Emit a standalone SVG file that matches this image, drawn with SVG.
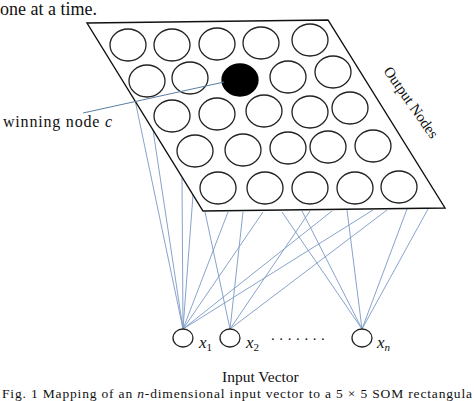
<svg xmlns="http://www.w3.org/2000/svg" width="474" height="401" viewBox="0 0 474 401">
<style>
  .txt { font-family: "Liberation Serif", "Times New Roman", serif; fill: #111; }
  .node { fill: #fff; stroke: #222; stroke-width: 1.3; }
  .win { fill: #000; stroke: #000; stroke-width: 1.3; }
  .plane { fill: #fff; stroke: #111; stroke-width: 1.4; stroke-linejoin: miter; }
  .conn line { stroke: #7b99c4; stroke-width: 0.9; }
  .leader { stroke: #5b7ea6; stroke-width: 1; fill: none; }
</style>
<rect width="474" height="401" fill="#fff"/>

<text class="txt" x="0" y="15" font-size="18">one at a time.</text>

<g id="connectors" class="conn">
  <line x1="183" y1="329" x2="135" y2="100"/>
  <line x1="183" y1="329" x2="153" y2="130"/>
  <line x1="183" y1="329" x2="182" y2="178"/>
  <line x1="183" y1="329" x2="193" y2="195"/>
  <line x1="183" y1="329" x2="228" y2="212"/>
  <line x1="183" y1="329" x2="263" y2="212"/>
  <line x1="183" y1="329" x2="332" y2="211"/>
  <line x1="183" y1="329" x2="373" y2="210"/>
  <line x1="230" y1="329" x2="205" y2="212"/>
  <line x1="230" y1="329" x2="243" y2="212"/>
  <line x1="230" y1="329" x2="310" y2="211"/>
  <line x1="230" y1="329" x2="387" y2="210"/>
  <line x1="362" y1="329" x2="282" y2="212"/>
  <line x1="362" y1="329" x2="302" y2="211"/>
  <line x1="362" y1="329" x2="347" y2="210"/>
  <line x1="362" y1="329" x2="407" y2="209"/>
  <line x1="362" y1="329" x2="428" y2="209"/>
</g>

<g id="output-layer">
  <polygon class="plane" points="87,23 328,20 445,208 203,211"/>
  <g id="out-r1">
    <ellipse id="n11" class="node" cx="128" cy="45" rx="18" ry="16"/>
    <ellipse id="n12" class="node" cx="172" cy="45" rx="18" ry="16"/>
    <ellipse id="n13" class="node" cx="217" cy="44" rx="18" ry="16"/>
    <ellipse id="n14" class="node" cx="261" cy="43" rx="18" ry="16"/>
    <ellipse id="n15" class="node" cx="310" cy="40" rx="18" ry="16"/>
  </g>
  <g id="out-r2">
    <ellipse id="n21" class="node" cx="147" cy="81" rx="18" ry="16"/>
    <ellipse id="n22" class="node" cx="190" cy="78" rx="18" ry="16"/>
    <ellipse id="n23" class="win" cx="240" cy="80" rx="18" ry="16"/>
    <ellipse id="n24" class="node" cx="288" cy="77" rx="18" ry="16"/>
    <ellipse id="n25" class="node" cx="333" cy="72" rx="18" ry="16"/>
  </g>
  <g id="out-r3">
    <ellipse id="n31" class="node" cx="172" cy="116" rx="18" ry="16"/>
    <ellipse id="n32" class="node" cx="217" cy="114" rx="18" ry="16"/>
    <ellipse id="n33" class="node" cx="264" cy="111" rx="18" ry="16"/>
    <ellipse id="n34" class="node" cx="310" cy="112" rx="18" ry="16"/>
    <ellipse id="n35" class="node" cx="350" cy="108" rx="18" ry="16"/>
  </g>
  <g id="out-r4">
    <ellipse id="n41" class="node" cx="195" cy="151" rx="18" ry="16"/>
    <ellipse id="n42" class="node" cx="243" cy="150" rx="18" ry="16"/>
    <ellipse id="n43" class="node" cx="288" cy="148" rx="18" ry="16"/>
    <ellipse id="n44" class="node" cx="328" cy="147" rx="18" ry="16"/>
    <ellipse id="n45" class="node" cx="373" cy="146" rx="18" ry="16"/>
  </g>
  <g id="out-r5">
    <ellipse id="n51" class="node" cx="218" cy="188" rx="18" ry="16"/>
    <ellipse id="n52" class="node" cx="265" cy="188" rx="18" ry="16"/>
    <ellipse id="n53" class="node" cx="310" cy="188" rx="18" ry="16"/>
    <ellipse id="n54" class="node" cx="355" cy="188" rx="18" ry="16"/>
    <ellipse id="n55" class="node" cx="399" cy="187" rx="18" ry="16"/>
  </g>
  <text class="txt" font-size="15" transform="translate(383,71) rotate(55)">Output Nodes</text>
</g>

<g id="winner-label">
  <line class="leader" x1="83" y1="113" x2="224" y2="82"/>
  <text class="txt" x="3" y="127" font-size="16" letter-spacing="0.8">winning node <tspan font-style="italic">c</tspan></text>
</g>

<g id="input-x1">
  <ellipse class="node" cx="183" cy="338" rx="10" ry="9"/>
  <text class="txt" x="199" y="348" font-size="17"><tspan font-style="italic">x</tspan><tspan font-size="11" dy="3">1</tspan></text>
</g>
<g id="input-x2">
  <ellipse class="node" cx="230" cy="338" rx="10" ry="9"/>
  <text class="txt" x="246" y="348" font-size="17"><tspan font-style="italic">x</tspan><tspan font-size="11" dy="3">2</tspan></text>
</g>
<text class="txt" x="271" y="340" font-size="15" letter-spacing="4.6">.......</text>
<g id="input-xn">
  <ellipse class="node" cx="362" cy="338" rx="10" ry="9"/>
  <text class="txt" x="377" y="348" font-size="17"><tspan font-style="italic">x</tspan><tspan font-size="11" font-style="italic" dy="3">n</tspan></text>
</g>

<text class="txt" x="222" y="382" font-size="15.5">Input Vector</text>
<text class="txt" x="2" y="398" font-size="13.5" textLength="470" lengthAdjust="spacing">Fig. 1 Mapping of an <tspan font-style="italic">n</tspan>-dimensional input vector to a 5 × 5 SOM rectangula</text>
</svg>
